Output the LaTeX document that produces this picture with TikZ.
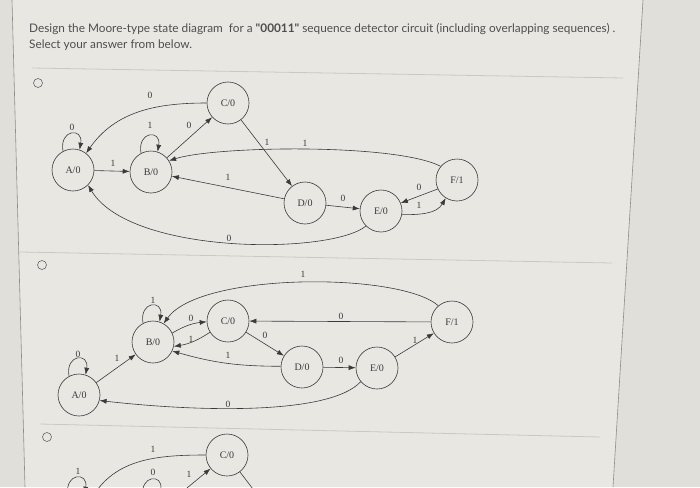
\documentclass[tikz,border=0pt]{standalone}
\usepackage{fontspec}
\setmainfont{Liberation Serif}
\newfontfamily\uifont{Lato}
\usetikzlibrary{positioning,arrows.meta}
\definecolor{ink}{HTML}{3A3A3A}
\definecolor{paper}{HTML}{E9E7E2}
\definecolor{outside}{HTML}{E1DFDA}
\definecolor{rulec}{HTML}{C9C8C4}
\definecolor{edgec}{HTML}{8E8D8A}

\begin{document}
\begin{tikzpicture}[x=1pt,y=-1pt,
  st/.style={draw=ink,circle,line width=0.6pt,minimum size=42pt,inner sep=0pt,text=ink,font=\fontsize{10}{12}\selectfont},
  tr/.style={draw=ink,line width=0.6pt,-{Latex[length=7pt,width=5pt]}},
  lbl/.style={text=ink,inner sep=0pt,font=\fontsize{9.5}{11}\selectfont},
  rul/.style={draw=rulec,line width=0.8pt},
  qtext/.style={anchor=west,inner sep=0pt,text=ink!90,font=\uifont\fontsize{11.8}{14}\selectfont},
  radio/.style={draw=gray!80!black,circle,line width=0.6pt,minimum size=9pt,inner sep=0pt}]
\useasboundingbox (0,0) rectangle (700,487);
\clip (0,0) rectangle (700,487);

% page
\fill[outside] (0,0) rectangle (700,487);
\fill[paper] (12,0) -- (643,0) -- (613,487) -- (25,487) -- cycle;
\draw[edgec,line width=0.6pt] (12,0) -- (25,487);
\draw[edgec,line width=0.6pt] (643,0) -- (613,487);

% question
\node[qtext] (q1) at (29,29)
  {Design the Moore-type state diagram\ \ for a \textbf{"00011"} sequence detector circuit (including overlapping sequences) .};
\node[qtext] (q2) at (29,45) {Select your answer from below.};

\draw[rul] (32,68) -- (623,78);
\draw[rul] (20,252) -- (612,263);
\draw[rul] (40,424) -- (600,437);
\node[radio] (r1) at (38,83) {};
\node[radio] (r2) at (42,265) {};
\node[radio] (r3) at (47,437) {};

% first choice
\node[st] (a1) at (73,170) {A/0};
\node[st] (b1) at (151,172) {B/0};
\node[st] (c1) at (228,103) {C/0};
\node[st] (d1) at (305,203) {D/0};
\node[st] (e1) at (381,211) {E/0};
\node[st] (f1) at (457,180) {F/1};

\draw[tr] (a1.118) to[out=100,in=80,looseness=3.5] (a1.72);
\draw[tr] (b1.118) to[out=100,in=80,looseness=3.5] (b1.72);
\draw[tr] (a1) -- (b1);
\draw[tr] (b1) -- (c1);
\draw[tr] (c1.west) to[out=180,in=55] (a1.52);
\draw[tr] (c1) -- (d1);
\draw[tr] (d1) -- (b1);
\draw[tr] (d1) -- (e1);
\draw[tr] (f1.140) .. controls (395,143) and (215,146) .. (b1.32);
\draw[tr] (e1.225) .. controls (330,255) and (130,255) .. (a1.-45);
\draw[tr] (f1.205) -- (e1.22);
\draw[tr] (e1.-10) to[out=0,in=240] (f1.238);

\node[lbl] (l1a) at (72,127) {0};
\node[lbl] (l1b) at (113,163) {1};
\node[lbl] (l1c) at (150,125) {1};
\node[lbl] (l1d) at (189,125) {0};
\node[lbl] (l1e) at (150,95) {0};
\node[lbl] (l1f) at (267,142) {1};
\node[lbl] (l1g) at (305,143) {1};
\node[lbl] (l1h) at (228,177) {1};
\node[lbl] (l1i) at (343,198) {0};
\node[lbl] (l1j) at (229,238) {0};
\node[lbl] (l1k) at (419,187) {0};
\node[lbl] (l1l) at (419,205) {1};

% second choice
\node[st] (a2) at (79,395) {A/0};
\node[st] (b2) at (153,342) {B/0};
\node[st] (c2) at (228,321) {C/0};
\node[st] (d2) at (302,367) {D/0};
\node[st] (e2) at (377,368) {E/0};
\node[st] (f2) at (452,322) {F/1};

\draw[tr] (a2.118) to[out=100,in=80,looseness=3.5] (a2.72);
\draw[tr] (b2.118) to[out=100,in=80,looseness=3.5] (b2.72);
\draw[tr] (a2) -- (b2);
\draw[tr] (b2.25) to[bend left=12] (c2.182);
\draw[tr] (c2.212) to[bend left=12] (b2.-12);
\draw[tr] (c2) -- (d2);
\draw[tr] (d2.178) to[bend left=8] (b2.-25);
\draw[tr] (d2) -- (e2);
\draw[tr] (e2) -- (f2);
\draw[tr] (f2) -- (c2);
\draw[tr] (f2.130) .. controls (400,272) and (200,272) .. (b2.60);
\draw[tr] (e2.220) .. controls (330,415) and (200,412) .. (a2.-15);

\node[lbl] (l2a) at (78,354) {0};
\node[lbl] (l2b) at (117,358) {1};
\node[lbl] (l2c) at (153,300) {1};
\node[lbl] (l2d) at (191,318) {0};
\node[lbl] (l2e) at (191,339) {1};
\node[lbl] (l2f) at (265,335) {0};
\node[lbl] (l2g) at (228,355) {1};
\node[lbl] (l2h) at (341,360) {0};
\node[lbl] (l2i) at (228,404) {0};
\node[lbl] (l2j) at (415,340) {1};
\node[lbl] (l2k) at (341,316) {0};
\node[lbl] (l2l) at (303,274) {1};

% third choice (cut off)
\node[st] (a3) at (78,514) {};
\node[st] (b3) at (153,516) {};
\node[st] (c3) at (227,455) {C/0};
\node[st] (d3) at (282,527) {};

\draw[tr] (a3.118) to[out=100,in=80,looseness=3.5] (a3.72);
\draw[tr] (b3.118) to[out=100,in=80,looseness=3.5] (b3.72);
\draw[tr] (b3) -- (c3);
\draw[tr] (c3) -- (d3);
\draw[tr] (c3.west) to[out=180,in=55] (a3.50);

\node[lbl] (l3a) at (78,471) {1};
\node[lbl] (l3b) at (153,472) {0};
\node[lbl] (l3c) at (189,474) {1};
\node[lbl] (l3d) at (153,449) {1};
\end{tikzpicture}
\end{document}
